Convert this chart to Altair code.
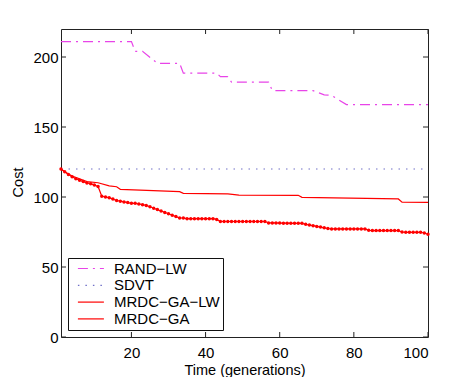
import altair as alt
import pandas as pd

FONT = "Liberation Sans"

# RAND-LW (breakpoints)
rand_x = [1, 20, 21, 23, 27, 33, 34, 43, 44, 46, 47, 57, 58, 69, 72, 74, 78, 100]
rand_y = [211, 211, 204, 204, 195.5, 195.5, 188.5, 188.5, 186, 186, 182, 182, 176, 176, 173, 172.5, 166, 166]

# SDVT (constant)
sdvt_x = [1, 100]
sdvt_y = [120, 120]

# MRDC-GA-LW (breakpoints)
lw_x = [1, 2, 4, 8, 11, 14, 16, 17, 33, 34, 46, 49, 65, 66, 92, 93, 100]
lw_y = [120, 118, 115, 111, 110.2, 108, 107.3, 105.5, 103.8, 102.6, 102.2, 101.4, 101.2, 99.8, 98.6, 96.3, 96.2]

# MRDC-GA (one value per generation)
ga_x = list(range(1, 101))
ga_y = [120, 118, 116, 114.5, 113, 112, 111, 110, 109.5, 108.5,
        107.5, 100.5, 100, 99.5, 98.5, 97.5, 97, 96.5, 96, 95.5,
        95.5, 95, 94.5, 94, 93, 92, 91, 90, 89, 88,
        87, 86, 85, 85, 84.5, 84.5, 84.5, 84.5, 84.5, 84.5,
        84.5, 84.5, 84, 82.5, 82.5, 82.5, 82.5, 82.5, 82.5, 82.5,
        82.5, 82.5, 82.5, 82.5, 82.5, 82.5, 81.5, 81.5, 81.5, 81.4,
        81.3, 81.3, 81.2, 81.2, 81.2, 81.2, 80.5, 80, 79.5, 79,
        78.5, 78, 77.5, 77.2, 77.2, 77.2, 77.2, 77.2, 77.2, 77.2,
        77.2, 77.2, 77.2, 76.2, 76, 76, 76, 76, 76, 76,
        76, 76, 75, 74.8, 74.8, 74.8, 74.8, 74.8, 74.3, 73.4]

series_names = ["RAND\u2212LW", "SDVT", "MRDC\u2212GA\u2212LW", "MRDC\u2212GA"]
series_colors = ["#e844e8", "#7070c8", "#ff0000", "#ff0000"]
series_dash = [[10, 5, 2, 5], [1.5, 6], [400, 1], [400, 2]]
series_width = [1.2, 1.2, 1.2, 1.6]

x_ticks = [20, 40, 60, 80, 100]
y_ticks = [0, 50, 100, 150, 200]

rows = []
for name, xs, ys in zip(series_names, [rand_x, sdvt_x, lw_x, ga_x], [rand_y, sdvt_y, lw_y, ga_y]):
    for xv, yv in zip(xs, ys):
        rows.append({"gen": xv, "cost": yv, "series": name})
df = pd.DataFrame(rows)

W, H = 367, 308
xscale = alt.Scale(domain=[1, 100], nice=False, zero=False)
yscale = alt.Scale(domain=[0, 220], nice=False)

LINE_PATH = "M-0.12,0L5.08,0"


def make_legend():
    return alt.Legend(
        title=None, orient="none", legendX=7, legendY=229,
        strokeColor="#111111", fillColor="white", padding=3,
        labelFont=FONT, labelFontSize=15, labelColor="black",
        symbolType=LINE_PATH, symbolSize=100, symbolStrokeWidth=1.3,
        symbolStrokeColor="#ff0000", symbolFillColor="transparent",
        rowPadding=0.8, labelOffset=28, cornerRadius=0,
    )


lines = alt.Chart(df).mark_line().encode(
    x=alt.X("gen:Q", scale=xscale,
            axis=alt.Axis(values=x_ticks, title="Time (generations)", ticks=False, domain=False,
                          grid=False, labelFontSize=15, labelPadding=8, labelColor="black",
                          labelFont=FONT, titleFont=FONT, titleFontSize=14.5, titleFontWeight="normal",
                          titleColor="black", titleBaseline="alphabetic", titleY=37)),
    y=alt.Y("cost:Q", scale=yscale,
            axis=alt.Axis(values=y_ticks, title="Cost", ticks=False, tickSize=0, domain=False,
                          grid=False, labelFontSize=15, labelPadding=3, labelColor="black",
                          labelFont=FONT, titleFont=FONT, titleFontSize=14.5,
                          titleFontWeight="normal", titleColor="black", titleBaseline="alphabetic",
                          titleX=-39, titleY=153, titleAngle=270)),
    color=alt.Color("series:N", scale=alt.Scale(domain=series_names, range=series_colors),
                    legend=make_legend()),
    strokeDash=alt.StrokeDash("series:N", scale=alt.Scale(domain=series_names, range=series_dash),
                              legend=make_legend()),
    strokeWidth=alt.StrokeWidth("series:N", scale=alt.Scale(domain=series_names, range=series_width),
                                legend=None),
)

dots = alt.Chart(df[df["series"] == "MRDC\u2212GA"]).mark_point(
    filled=True, size=12, color="#ff0000", opacity=1
).encode(x=alt.X("gen:Q", scale=xscale), y=alt.Y("cost:Q", scale=yscale))

xt = pd.DataFrame({"t": x_ticks})
yt = pd.DataFrame({"t": y_ticks})
tick_style = dict(color="#222222", strokeWidth=1)
xb = alt.Chart(xt).mark_rule(**tick_style).encode(
    x=alt.X("t:Q", scale=xscale), y=alt.value(H), y2=alt.value(H - 5))
xtp = alt.Chart(xt).mark_rule(**tick_style).encode(
    x=alt.X("t:Q", scale=xscale), y=alt.value(0), y2=alt.value(5))
yl = alt.Chart(yt).mark_rule(**tick_style).encode(
    y=alt.Y("t:Q", scale=yscale), x=alt.value(0), x2=alt.value(5))
yr = alt.Chart(yt).mark_rule(**tick_style).encode(
    y=alt.Y("t:Q", scale=yscale), x=alt.value(W), x2=alt.value(W - 5))

chart = alt.layer(lines, dots, xb, xtp, yl, yr).properties(
    width=W, height=H,
    autosize=alt.AutoSizeParams(type="none"),
    padding={"left": 53, "top": 21, "right": 38, "bottom": 40},
    background="white",
).configure_view(stroke="#222222", strokeWidth=1)

chart.save("out.html", embed_options={"renderer": "svg", "actions": False})
